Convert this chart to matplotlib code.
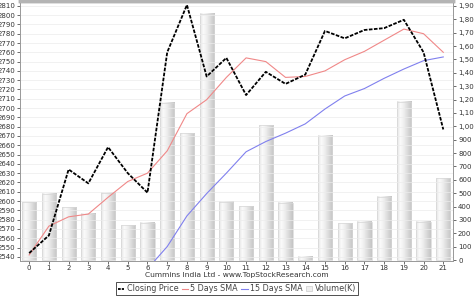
import matplotlib
matplotlib.use('Agg')
import matplotlib.pyplot as plt
import numpy as np
from matplotlib.colors import LinearSegmentedColormap
from matplotlib.lines import Line2D
from matplotlib.patches import Patch

# values
days = list(range(22))
closing = [2544, 2563, 2634, 2619, 2658, 2630, 2609, 2760, 2811, 2734, 2754,
           2714, 2739, 2726, 2736, 2783, 2775, 2784, 2786, 2795, 2760, 2677]
sma5 = [2542, 2573, 2583, 2586, 2604, 2621, 2630, 2654, 2694, 2709, 2733,
        2754, 2750, 2733, 2734, 2740, 2752, 2761, 2773, 2785, 2780, 2760]
sma15 = [np.nan, np.nan, np.nan, np.nan, np.nan, np.nan, 2527, 2551, 2584, 2608, 2630,
         2653, 2664, 2673, 2683, 2699, 2713, 2721, 2732, 2742, 2751, 2755]
volume = [431, 496, 394, 344, 501, 259, 279, 1176, 947, 1840, 436,
          403, 1009, 428, 25, 927, 274, 288, 473, 1183, 286, 610]
price_ticks = list(range(2540, 2811, 10))
vol_ticks = list(range(0, 1901, 100))

fig = plt.figure(figsize=(4.74, 2.96), dpi=100)
ax_v = fig.add_axes([0.042, 0.118, 0.914, 0.878])
ax = ax_v.twinx()
# price axis on the left, volume on the right
ax.yaxis.tick_left()
ax_v.yaxis.tick_right()
ax.set_zorder(ax_v.get_zorder() + 1)
ax.patch.set_visible(False)

# volume bars with a soft gradient
cmap = LinearSegmentedColormap.from_list('bar', [(0, '#e4e4e4'), (0.22, '#fbfbfb'),
                                                 (0.45, '#efefef'), (1, '#c4c4c4')])
grad = np.linspace(0, 1, 64).reshape(1, -1)
bars = ax_v.bar(days, volume, width=0.72, color='none', edgecolor='#d6d6d6', linewidth=0.5, zorder=3)
for b in bars:
    x0 = b.get_x()
    ax_v.imshow(grad, cmap=cmap, aspect='auto', zorder=2,
                extent=(x0, x0 + b.get_width(), 0, b.get_height()))
ax_v.set_xlim(-0.47, 21.5)
ax_v.set_ylim(-7.5, 1935)
ax_v.set_yticks(vol_ticks)
ax_v.set_yticklabels([f'{v:,}' for v in vol_ticks])

ax.plot(days, sma15, color='#8080ee', linewidth=0.8, zorder=4)
ax.plot(days, sma5, color='#f08888', linewidth=0.8, zorder=4)
ax.plot(days, closing, color='black', linewidth=1.3, linestyle=(0, (2, 0.8)), zorder=5)
ax.set_ylim(2535.4, 2815)
ax.set_yticks(price_ticks)
ax.set_xticks(days)
ax.grid(color='#ececec', linewidth=0.5)
ax.set_axisbelow(True)

for a in (ax, ax_v):
    a.tick_params(labelsize=5, length=2, width=0.5, colors='#333333', pad=1.5)
    for s in a.spines.values():
        s.set_color('#999999')
        s.set_linewidth(0.6)
    a.spines['top'].set_color('#b4b4b4')
    a.spines['top'].set_linewidth(2.5)
ax_v.tick_params(axis='x', pad=1)

ax_v.set_xlabel('Cummins India Ltd - www.TopStockResearch.com', fontsize=5.4,
                color='#333333', labelpad=0.5)

handles = [Line2D([], [], color='black', linestyle=(0, (1.5, 0.6)), linewidth=1.3),
           Line2D([], [], color='#f08888', linewidth=0.8),
           Line2D([], [], color='#8080ee', linewidth=0.8),
           Patch(facecolor='#eeeeee', edgecolor='#cccccc', linewidth=0.5)]
leg = fig.legend(handles, ['Closing Price', '5 Days SMA', '15 Days SMA', 'Volume(K)'],
                 loc='center', bbox_to_anchor=(0.5, 0.024), ncol=4, fontsize=5.8,
                 frameon=True, fancybox=False, handlelength=0.8, handletextpad=0.3,
                 columnspacing=0.4, borderpad=0.25, handleheight=0.6, borderaxespad=0)
leg.get_frame().set_edgecolor('black')
leg.get_frame().set_linewidth(0.6)
for t in leg.get_texts():
    t.set_color('#444444')

fig.savefig('out.png', dpi=100)
